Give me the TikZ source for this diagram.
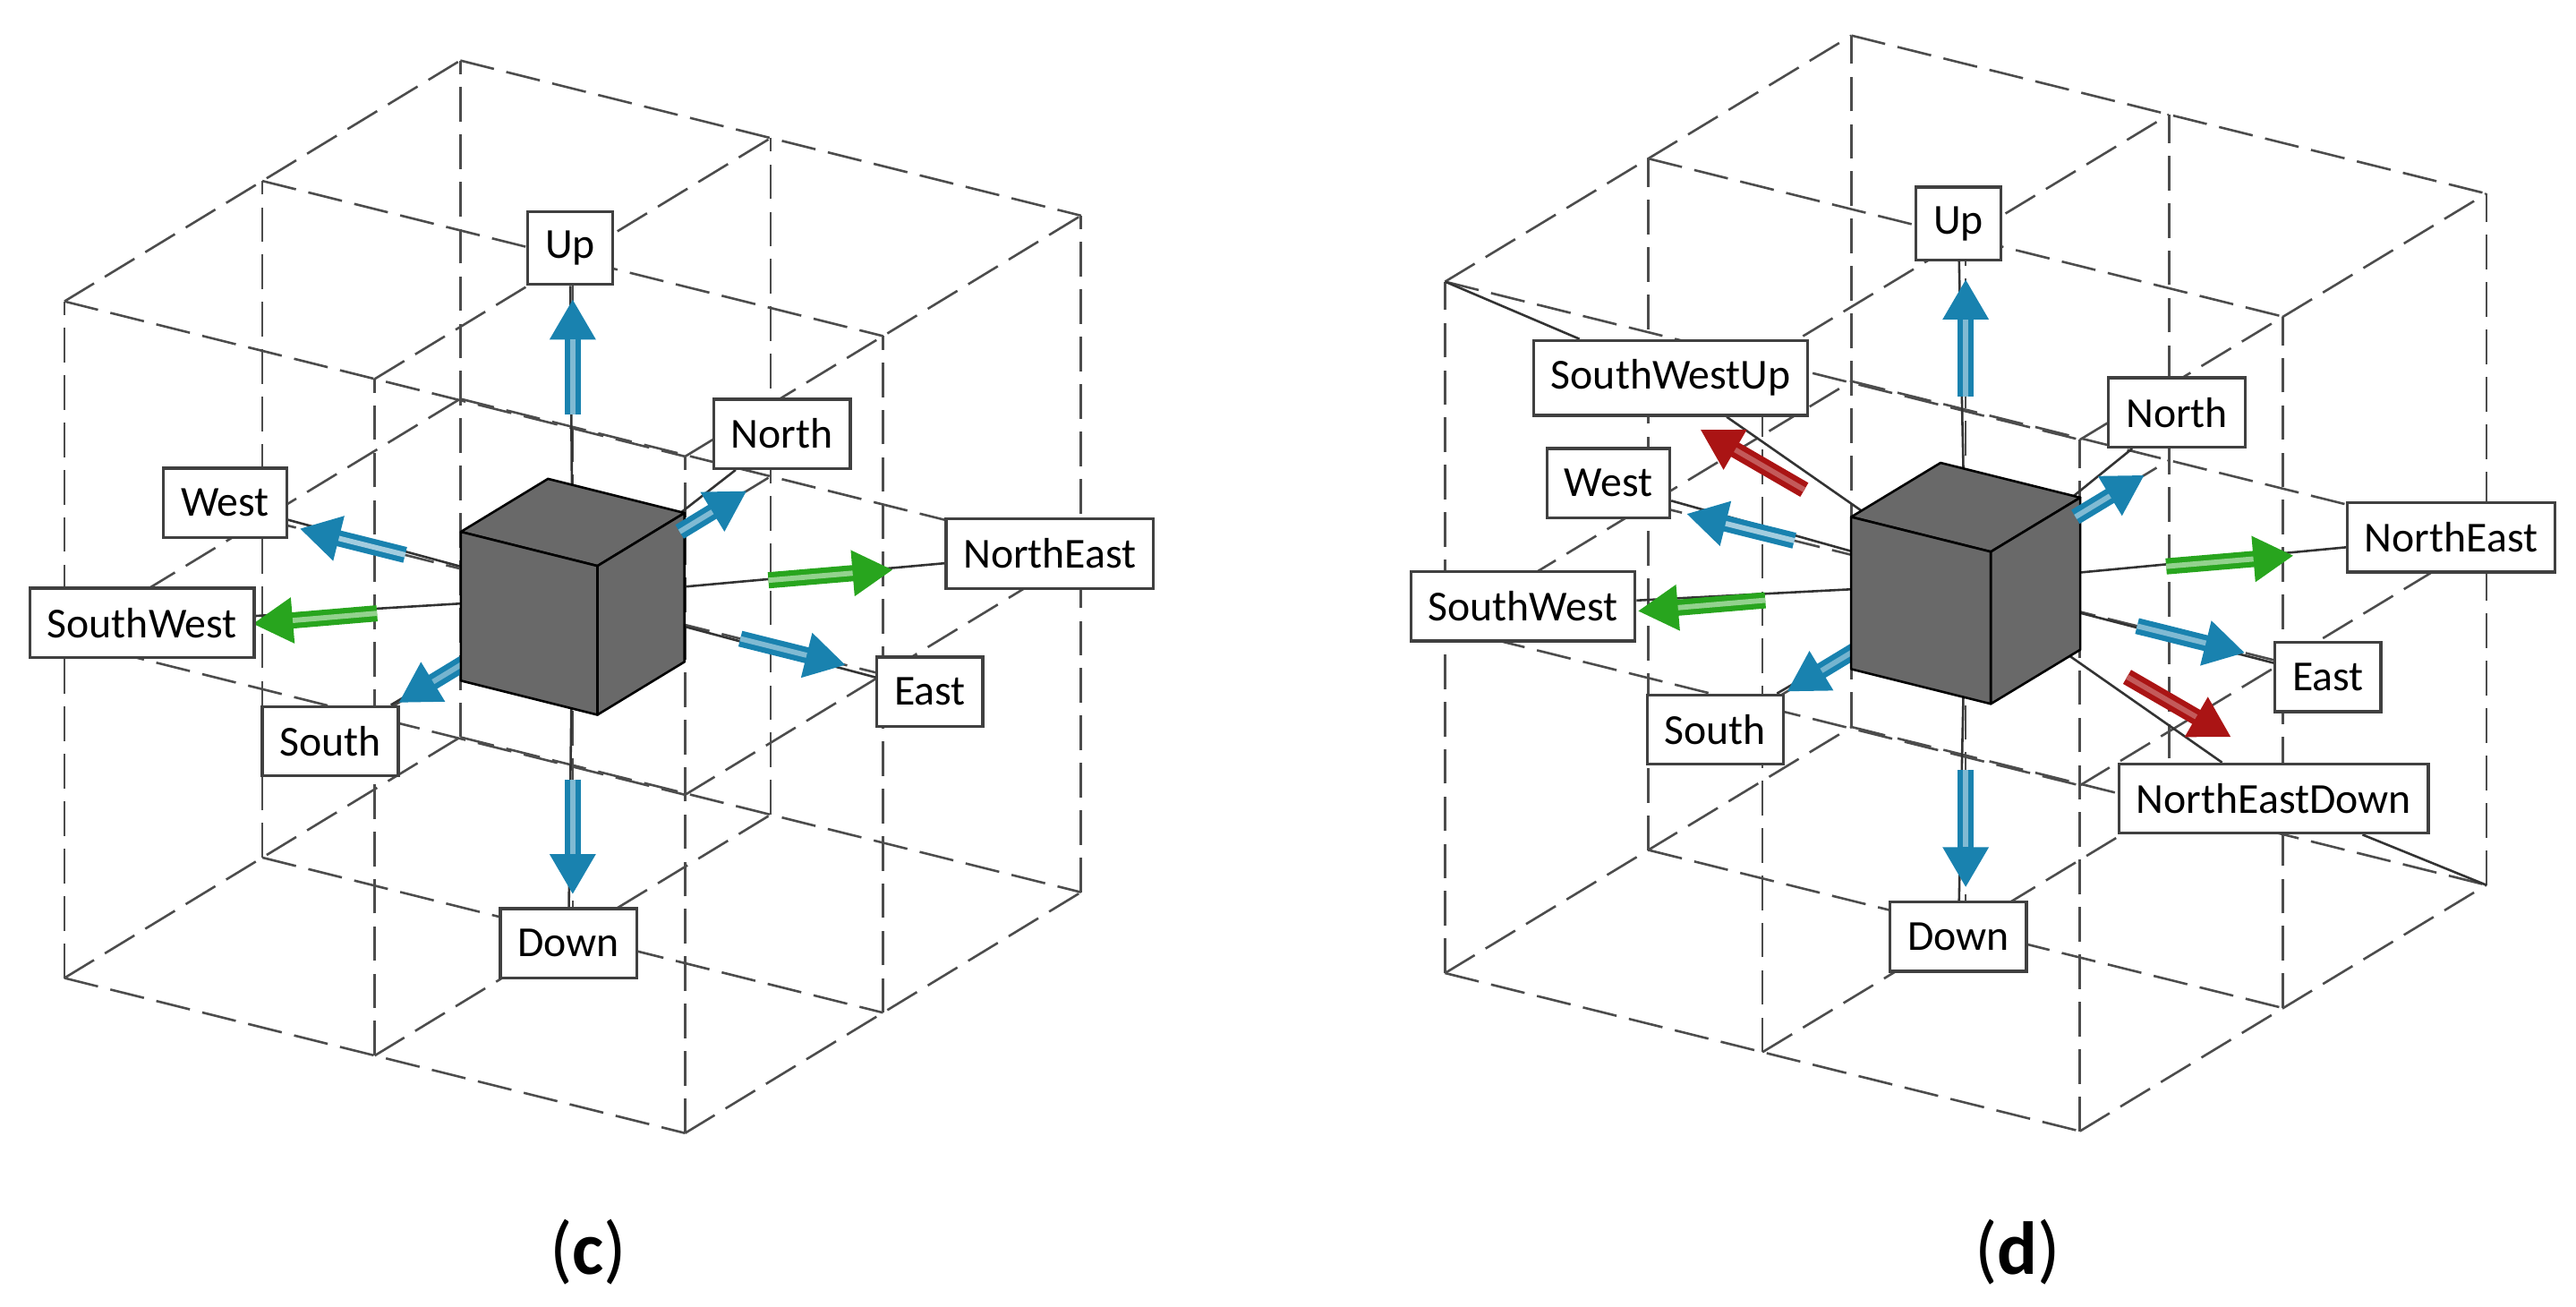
\documentclass[tikz,border=0pt]{standalone}
\usepackage{fontspec}
\setmainfont{Carlito}
\usetikzlibrary{arrows.meta}
\definecolor{ablue}{RGB}{25,130,175}
\definecolor{agreen}{RGB}{40,165,30}
\definecolor{ared}{RGB}{170,20,20}
\definecolor{cubegray}{RGB}{105,105,105}
\tikzset{
  grid/.style={black!70, line width=0.4pt, dash pattern=on 6pt off 2.2pt},
  lead/.style={black!80, line width=0.4pt},
  lab/.style={draw=black!75, fill=white, line width=0.5pt, inner xsep=3pt,
    minimum height=12pt, font=\fontsize{7.4}{9}\selectfont},
  cube/.style={fill=cubegray, draw=black, line width=0.4pt, line join=round},
  arr/.style={line width=2.8pt, draw=#1, -{Triangle[width=7.5pt,length=7pt]}},
  hl/.style={line width=0.9pt, draw=#1, shorten >=7pt},
  subcap/.style={font=\fontsize{13}{15}\selectfont}
}
% lattice of the 2x2x2 block and the cube in its centre
\newcommand\lattice{%
  \foreach \i in {-1,0,1}{\foreach \j in {-1,0,1}{
    \draw[grid] (\i,\j,-1) -- (\i,\j,1);
    \draw[grid] (\i,-1,\j) -- (\i,1,\j);
    \draw[grid] (-1,\i,\j) -- (1,\i,\j);}}}
\newcommand\smallcube{%
  \def\s{0.22}
  \draw[cube] (-\s,-\s,\s) -- (\s,-\s,\s) -- (\s,\s,\s) -- (-\s,\s,\s) -- cycle;
  \draw[cube] (-\s,-\s,-\s) -- (-\s,\s,-\s) -- (-\s,\s,\s) -- (-\s,-\s,\s) -- cycle;
  \draw[cube] (-\s,\s,-\s) -- (\s,\s,-\s) -- (\s,\s,\s) -- (-\s,\s,\s) -- cycle;}
% \dirarrow{dx/dy/dz list}{start}{end}{colour}{highlight}
\newcommand\dirarrow[5]{%
  \foreach \dx/\dy/\dz in {#1}{
    \draw[arr=#4] (#2*\dx,#2*\dy,#2*\dz) -- (#3*\dx,#3*\dy,#3*\dz);
    \draw[hl=#5] (#2*\dx,#2*\dy,#2*\dz) -- (#3*\dx,#3*\dy,#3*\dz);}}
\begin{document}
\begin{tikzpicture}
\useasboundingbox (0,0) rectangle (15.68,-7.949);

% ---------------- panel (c)
\begin{scope}[shift={(3.486,-3.632)}, x={(1.205cm,0.733cm)}, y={(1.889cm,-0.472cm)}, z={(0cm,2.059cm)}]
  \lattice
  \coordinate (cc) at (0,0,0);
\end{scope}
\node[lab] (cUp) at (3.47,-1.51) {Up};
\node[lab] (cNorth) at (4.76,-2.64) {North};
\node[lab] (cWest) at (1.37,-3.06) {West};
\node[lab] (cNE) at (6.39,-3.37) {NorthEast};
\node[lab] (cSW) at (0.865,-3.79) {SouthWest};
\node[lab] (cSouth) at (2.01,-4.51) {South};
\node[lab] (cEast) at (5.66,-4.21) {East};
\node[lab] (cDown) at (3.46,-5.74) {Down};
\foreach \n in {cUp,cNorth,cWest,cNE,cSW,cSouth,cEast,cDown}
  \draw[lead] (cc) -- (\n);
\begin{scope}[shift={(3.486,-3.632)}, x={(1.205cm,0.733cm)}, y={(1.889cm,-0.472cm)}, z={(0cm,2.059cm)}]
  \dirarrow{-1/0/0}{0.54}{0.88}{ablue}{ablue!60!white}
  \dirarrow{0/-1/0}{0.54}{0.88}{ablue}{ablue!40!white}
  \dirarrow{-1/-1/0}{0.385}{0.63}{agreen}{agreen!50!white}
  \smallcube
  \dirarrow{0/0/1,0/0/-1,1/0/0,0/1/0}{0.54}{0.88}{ablue}{ablue!55!white}
  \dirarrow{1/1/0}{0.385}{0.63}{agreen}{agreen!50!white}
\end{scope}
\node[lab] at (cUp) {Up};
\node[lab] at (cNorth) {North};
\node[lab] at (cWest) {West};
\node[lab] at (cNE) {NorthEast};
\node[lab] at (cSW) {SouthWest};
\node[lab] at (cSouth) {South};
\node[lab] at (cEast) {East};
\node[lab] at (cDown) {Down};
\node[subcap] (capc) at (3.58,-7.62) {(\textbf{c})};

% ---------------- panel (d)
\begin{scope}[shift={(11.965,-3.55)}, x={(1.237cm,0.749cm)}, y={(1.932cm,-0.481cm)}, z={(0cm,2.104cm)}]
  \lattice
  \coordinate (cd) at (0,0,0);
  \coordinate (swuc) at (-1,-1,1);
  \coordinate (nedc) at (1,1,-1);
\end{scope}
\node[lab] (dUp) at (11.92,-1.36) {Up};
\node[lab] (dSWU) at (10.17,-2.30) {SouthWestUp};
\node[lab] (dNorth) at (13.25,-2.51) {North};
\node[lab] (dWest) at (9.79,-2.94) {West};
\node[lab] (dNE) at (14.92,-3.27) {NorthEast};
\node[lab] (dSW) at (9.27,-3.69) {SouthWest};
\node[lab] (dEast) at (14.17,-4.12) {East};
\node[lab] (dSouth) at (10.44,-4.44) {South};
\node[lab] (dNED) at (13.84,-4.86) {NorthEastDown};
\node[lab] (dDown) at (11.92,-5.70) {Down};
\foreach \n in {dUp,dSWU,dNorth,dWest,dNE,dSW,dEast,dSouth,dNED,dDown}
  \draw[lead] (cd) -- (\n);
\draw[lead] (dSWU) -- (swuc);
\draw[lead] (dNED) -- (nedc);
\begin{scope}[shift={(11.965,-3.55)}, x={(1.237cm,0.749cm)}, y={(1.932cm,-0.481cm)}, z={(0cm,2.104cm)}]
  \dirarrow{-1/0/0}{0.54}{0.88}{ablue}{ablue!60!white}
  \dirarrow{0/-1/0}{0.54}{0.88}{ablue}{ablue!40!white}
  \dirarrow{-1/-1/0}{0.385}{0.63}{agreen}{agreen!50!white}
  \dirarrow{-1/-1/1}{0.31}{0.51}{ared}{ared!70!white}
  \smallcube
  \dirarrow{0/0/1,0/0/-1,1/0/0,0/1/0}{0.54}{0.88}{ablue}{ablue!55!white}
  \dirarrow{1/1/0}{0.385}{0.63}{agreen}{agreen!50!white}
  \dirarrow{1/1/-1}{0.31}{0.51}{ared}{ared!70!white}
\end{scope}
\node[lab] at (dUp) {Up};
\node[lab] at (dSWU) {SouthWestUp};
\node[lab] at (dNorth) {North};
\node[lab] at (dWest) {West};
\node[lab] at (dNE) {NorthEast};
\node[lab] at (dSW) {SouthWest};
\node[lab] at (dEast) {East};
\node[lab] at (dSouth) {South};
\node[lab] at (dNED) {NorthEastDown};
\node[lab] at (dDown) {Down};
\node[subcap] (capd) at (12.28,-7.62) {(\textbf{d})};
\end{tikzpicture}
\end{document}
